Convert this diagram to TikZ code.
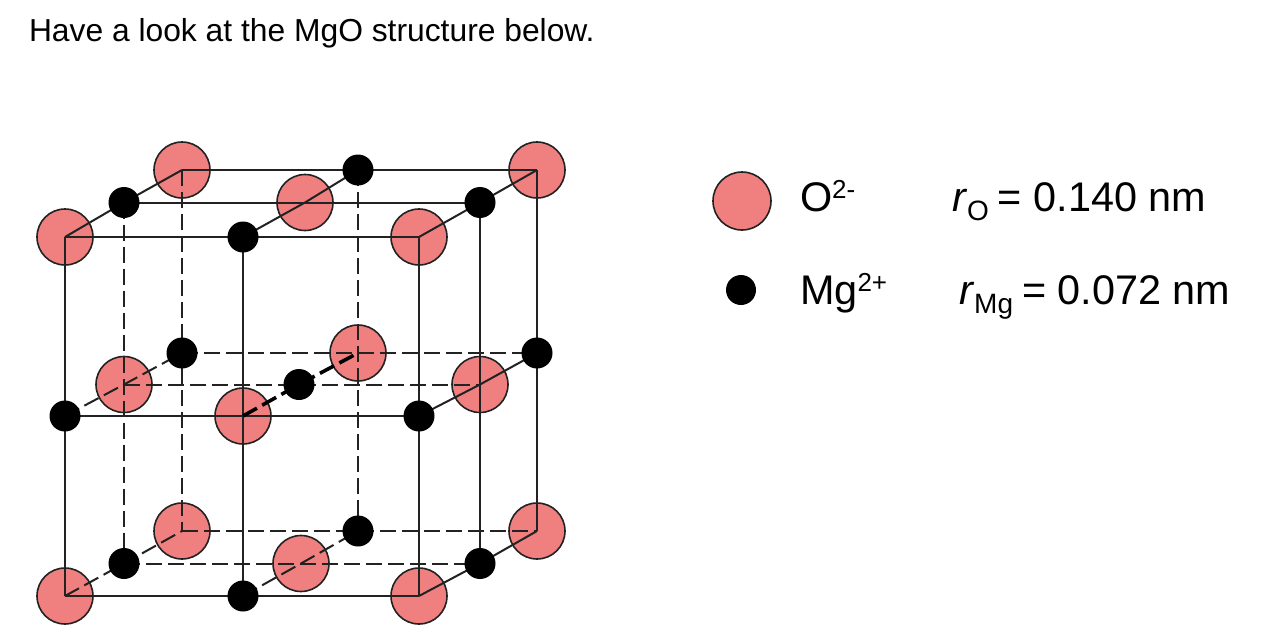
\documentclass[tikz,border=0pt]{standalone}
\usepackage{fontspec}
\setmainfont{Liberation Sans}
\pgfdeclarelayer{lines}
\pgfdeclarelayer{top}
\pgfsetlayers{main,lines,top}
\definecolor{oxy}{HTML}{F08080}
\definecolor{ln}{HTML}{222222}
\newcommand{\sups}[1]{\raisebox{13pt}{\fontsize{26}{26}\selectfont #1}}
\newcommand{\subs}[1]{\raisebox{-9pt}{\fontsize{28}{28}\selectfont #1}\kern-2.5pt\relax}
\tikzset{
  x=1pt,y=-1pt,
  oion/.style={circle,draw=ln,line width=1.6pt,fill=oxy,minimum size=56pt,inner sep=0pt,outer sep=0pt},
  mgion/.style={circle,fill=black,minimum size=31pt,inner sep=0pt,outer sep=0pt},
  solidbond/.style={draw=ln,line width=2pt},
  dashbond/.style={draw=ln,line width=2pt,dash pattern=on 16pt off 6pt},
  heavybond/.style={draw=black,line width=3.6pt,dash pattern=on 16pt off 6pt},
  lab/.style={anchor=base west,inner sep=0pt,outer sep=0pt,text=black},
  head/.style={lab,font=\fontsize{31.8}{34}\selectfont},
  leg/.style={lab,font=\fontsize{41.4}{44}\selectfont}
}
\begin{document}
\begin{tikzpicture}
\useasboundingbox (0,0) rectangle (1262,640);
\fill[white] (0,0) rectangle (1262,640);
% O ions
\foreach \n/\x/\y in {fa/65/237,fc/419/237,fe/243/416,fg/65/596,fi/419/596,
  mb/305/202.5,md/124/384.5,mf/480/384.5,mh/301/563.5,
  ba/182/170,bc/537/170,be/358/353,bg/182/531,bi/537/531}
  {\node[oion] (\n) at (\x,\y) {};}
% Mg ions
\begin{pgfonlayer}{top}
\foreach \n/\x/\y in {fb/243/237,fd/65/416,ff/419/416,fh/243/596,
  ma/124/202.5,mc/480/202.5,me/299/384.5,mg/124/563.5,mi/480/563.5,
  bb/358/170,bd/182/353,bf/537/353,bh/358/531}
  {\node[mgion] (\n) at (\x,\y) {};}
\end{pgfonlayer}
\begin{pgfonlayer}{lines}
% solid edges
\foreach \a/\b in {fa/fb,fb/fc,fd/fe,fe/ff,fg/fh,fh/fi,fa/fd,fd/fg,fb/fe,fe/fh,fc/ff,ff/fi,
  ba/bb,bb/bc,ma/mb,mb/mc,bc/bf,bf/bi,mc/mf,mf/mi,
  fa/ma,ma/ba,fb/mb,mb/bb,fc/mc,mc/bc,ff/mf,mf/bf,fi/mi,mi/bi}
  {\draw[solidbond] (\a.center) -- (\b.center);}
% dashed edges
\foreach \a/\b/\c in {ma/md/mg,ba/bd/bg,bb/be/bh}
  {\draw[dashbond] (\a.center) -- (\b.center) -- (\c.center);}
\draw[dashbond] (bd.center) -- (be.center) -- (bf.center);
\draw[dashbond] (md.center) -- (me.center) -- (mf.center);
\draw[dashbond] (bg.center) -- (bh.center) -- (bi.center);
\draw[dashbond] (mg.center) -- (mh.center) -- (mi.center);
\draw[dashbond] (fd.center) -- (md.center) -- (bd.center);
\draw[dashbond] (fg.center) -- (mg.center) -- (bg.center);
\draw[dashbond] (fh.center) -- (mh.center) -- (bh.center);
\draw[heavybond] (fe.center) -- (me.center) -- (be.center);
\end{pgfonlayer}
% legend
\node[oion,minimum size=58pt] (lo) at (742,201) {};
\node[mgion,minimum size=30pt] (lm) at (741,290) {};
\node[head] (title) at (29,41) {Have a look at the MgO structure below.};
\node[leg] (to) at (800,211) {O\sups{2-}};
\node[leg] (tm) at (800,304) {Mg\sups{2+}};
\node[leg] (ro) at (952,211) {\textit{r}\subs{O} = 0.140 nm};
\node[leg] (rm) at (959,304) {\textit{r}\subs{Mg} = 0.072 nm};
\end{tikzpicture}
\end{document}
